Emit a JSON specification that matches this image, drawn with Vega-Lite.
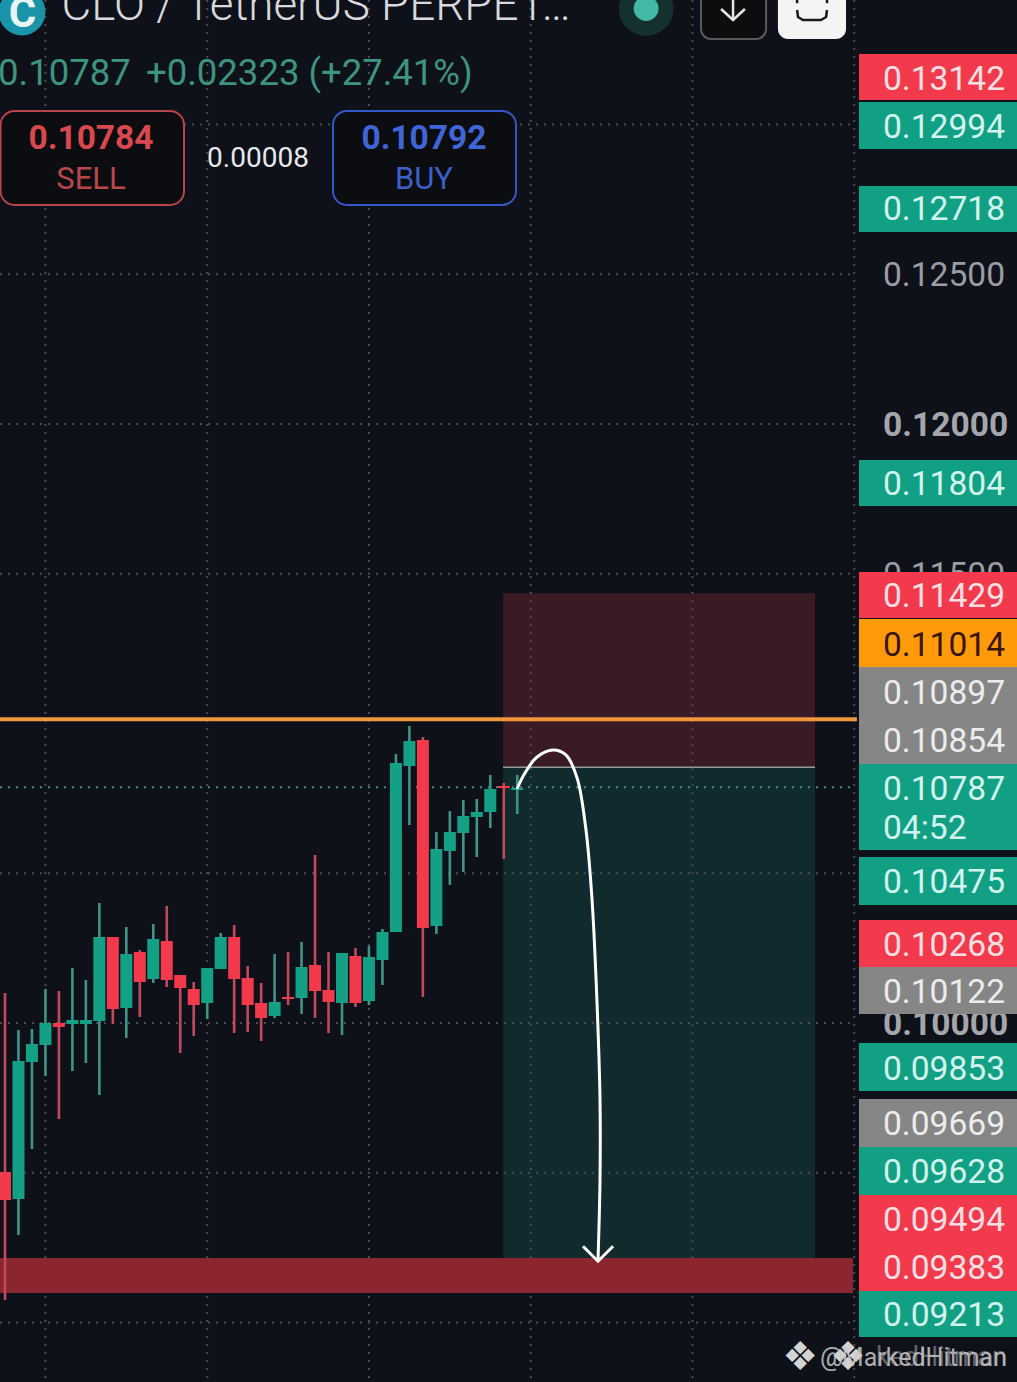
{"$schema":"https://vega.github.io/schema/vega-lite/v6.json","width":1017,"height":1382,"padding":0,"autosize":{"type":"none"},"background":"#0e1119","config":{"view":{"stroke":null},"text":{"font":"Roboto","dy":2}},
"datasets":{"candles":[
{"x":0,"o":0.095025,"h":0.101002,"l":0.090751,"c":0.09409,"side":"down"},
{"x":1,"o":0.094124,"h":0.099766,"l":0.092921,"c":0.098731,"side":"up"},
{"x":2,"o":0.098698,"h":0.0998,"l":0.095793,"c":0.099299,"side":"up"},
{"x":3,"o":0.099265,"h":0.101135,"l":0.09823,"c":0.1,"side":"up"},
{"x":4,"o":0.1,"h":0.101068,"l":0.096795,"c":0.099866,"side":"down"},
{"x":5,"o":0.099967,"h":0.101836,"l":0.098397,"c":0.1001,"side":"up"},
{"x":6,"o":0.099967,"h":0.101436,"l":0.098664,"c":0.1001,"side":"up"},
{"x":7,"o":0.100067,"h":0.104007,"l":0.097596,"c":0.102871,"side":"up"},
{"x":8,"o":0.102871,"h":0.102871,"l":0.099967,"c":0.100467,"side":"down"},
{"x":9,"o":0.100501,"h":0.103205,"l":0.099499,"c":0.102304,"side":"up"},
{"x":10,"o":0.102371,"h":0.102437,"l":0.1002,"c":0.101369,"side":"down"},
{"x":11,"o":0.101469,"h":0.103305,"l":0.101336,"c":0.102804,"side":"up"},
{"x":12,"o":0.102737,"h":0.103906,"l":0.101202,"c":0.101436,"side":"down"},
{"x":13,"o":0.101603,"h":0.101603,"l":0.099,"c":0.101169,"side":"down"},
{"x":14,"o":0.101135,"h":0.101369,"l":0.099566,"c":0.100601,"side":"down"},
{"x":15,"o":0.100668,"h":0.101836,"l":0.100133,"c":0.101836,"side":"up"},
{"x":16,"o":0.101803,"h":0.103005,"l":0.101803,"c":0.102871,"side":"up"},
{"x":17,"o":0.102871,"h":0.103272,"l":0.099666,"c":0.101469,"side":"down"},
{"x":18,"o":0.101503,"h":0.101903,"l":0.099699,"c":0.100601,"side":"down"},
{"x":19,"o":0.100668,"h":0.101336,"l":0.099399,"c":0.100167,"side":"down"},
{"x":20,"o":0.100234,"h":0.102304,"l":0.100167,"c":0.100701,"side":"up"},
{"x":21,"o":0.100868,"h":0.102371,"l":0.100601,"c":0.100801,"side":"down"},
{"x":22,"o":0.100835,"h":0.102705,"l":0.1003,"c":0.10187,"side":"up"},
{"x":23,"o":0.101937,"h":0.105609,"l":0.100167,"c":0.101068,"side":"down"},
{"x":24,"o":0.101102,"h":0.102371,"l":0.099666,"c":0.100701,"side":"down"},
{"x":25,"o":0.100668,"h":0.102337,"l":0.099599,"c":0.102337,"side":"up"},
{"x":26,"o":0.102237,"h":0.102504,"l":0.100534,"c":0.100668,"side":"down"},
{"x":27,"o":0.100735,"h":0.102571,"l":0.100601,"c":0.102204,"side":"up"},
{"x":28,"o":0.102104,"h":0.103139,"l":0.101269,"c":0.103039,"side":"up"},
{"x":29,"o":0.103039,"h":0.108982,"l":0.103039,"c":0.108682,"side":"up"},
{"x":30,"o":0.108581,"h":0.109917,"l":0.106611,"c":0.109416,"side":"up"},
{"x":31,"o":0.10945,"h":0.10955,"l":0.100868,"c":0.103173,"side":"down"},
{"x":32,"o":0.103239,"h":0.106377,"l":0.102972,"c":0.105809,"side":"up"},
{"x":33,"o":0.105743,"h":0.107079,"l":0.104608,"c":0.106377,"side":"up"},
{"x":34,"o":0.106344,"h":0.107446,"l":0.105041,"c":0.106912,"side":"up"},
{"x":35,"o":0.106879,"h":0.107479,"l":0.105542,"c":0.107045,"side":"up"},
{"x":36,"o":0.107045,"h":0.108281,"l":0.106511,"c":0.107813,"side":"up"},
{"x":37,"o":0.107913,"h":0.108014,"l":0.105476,"c":0.107846,"side":"down"},
{"x":38,"o":0.10778,"h":0.108281,"l":0.106979,"c":0.107846,"side":"up"}],
"tags":[
{"x":63.35,"x2":75.074,"p":0.132354,"p2":0.130818,"kind":"red"},
{"x":63.35,"x2":75.074,"p":0.130751,"p2":0.129182,"kind":"green"},
{"x":63.35,"x2":75.074,"p":0.127947,"p2":0.126411,"kind":"green"},
{"x":63.35,"x2":75.074,"p":0.118798,"p2":0.117262,"kind":"green"},
{"x":63.35,"x2":75.074,"p":0.115058,"p2":0.113522,"kind":"red"},
{"x":63.35,"x2":75.074,"p":0.113489,"p2":0.111886,"kind":"orange"},
{"x":63.35,"x2":75.074,"p":0.111886,"p2":0.110284,"kind":"grey"},
{"x":63.35,"x2":75.074,"p":0.110284,"p2":0.108648,"kind":"grey"},
{"x":63.35,"x2":75.074,"p":0.108648,"p2":0.105776,"kind":"green"},
{"x":63.35,"x2":75.074,"p":0.105542,"p2":0.10394,"kind":"green"},
{"x":63.35,"x2":75.074,"p":0.103439,"p2":0.10187,"kind":"red"},
{"x":63.35,"x2":75.074,"p":0.10187,"p2":0.1003,"kind":"grey"},
{"x":63.35,"x2":75.074,"p":0.099332,"p2":0.097729,"kind":"green"},
{"x":63.35,"x2":75.074,"p":0.097462,"p2":0.09586,"kind":"grey"},
{"x":63.35,"x2":75.074,"p":0.09586,"p2":0.094257,"kind":"green"},
{"x":63.35,"x2":75.074,"p":0.094257,"p2":0.092655,"kind":"red"},
{"x":63.35,"x2":75.074,"p":0.092655,"p2":0.091052,"kind":"red"},
{"x":63.35,"x2":75.074,"p":0.091052,"p2":0.089516,"kind":"green"}],
"tagText":[
{"x":65.13,"p":0.131553,"label":"0.13142","kind":"red"},
{"x":65.13,"p":0.12995,"label":"0.12994","kind":"green"},
{"x":65.13,"p":0.127212,"label":"0.12718","kind":"green"},
{"x":65.13,"p":0.11803,"label":"0.11804","kind":"green"},
{"x":65.13,"p":0.11429,"label":"0.11429","kind":"red"},
{"x":65.13,"p":0.112654,"label":"0.11014","kind":"orange"},
{"x":65.13,"p":0.111052,"label":"0.10897","kind":"grey"},
{"x":65.13,"p":0.109449,"label":"0.10854","kind":"grey"},
{"x":65.13,"p":0.107846,"label":"0.10787","kind":"green"},
{"x":65.13,"p":0.106544,"label":"04:52","kind":"green"},
{"x":65.13,"p":0.104741,"label":"0.10475","kind":"green"},
{"x":65.13,"p":0.102638,"label":"0.10268","kind":"red"},
{"x":65.13,"p":0.101069,"label":"0.10122","kind":"grey"},
{"x":65.13,"p":0.098497,"label":"0.09853","kind":"green"},
{"x":65.13,"p":0.096661,"label":"0.09669","kind":"grey"},
{"x":65.13,"p":0.095058,"label":"0.09628","kind":"green"},
{"x":65.13,"p":0.093456,"label":"0.09494","kind":"red"},
{"x":65.13,"p":0.091853,"label":"0.09383","kind":"red"},
{"x":65.13,"p":0.090284,"label":"0.09213","kind":"green"}]},
"encoding":{"x":{"field":"x","type":"quantitative","scale":{"domain":[-0.3709,75.074],"nice":false,"zero":false,"padding":0},"axis":null},"y":{"field":"p","type":"quantitative","scale":{"domain":[0.088013,0.134157],"nice":false,"zero":false},"axis":null}},
"layer":[
{"data":{"values":[{"x":36.95,"x2":60.09,"p":0.11435,"p2":0.10854,"zone":"stop"},{"x":36.95,"x2":60.09,"p":0.10854,"p2":0.09213,"zone":"target"}]},"mark":{"type":"rect"},"encoding":{"x2":{"field":"x2"},"y2":{"field":"p2"},"color":{"field":"zone","type":"nominal","legend":null,"scale":{"domain":["stop","target"],"range":["#3a1a24","#102a2e"]}}}},
{"data":{"values":[{"x":3,"p":0.134157,"p2":0.088013},{"x":15,"p":0.134157,"p2":0.088013},{"x":27,"p":0.134157,"p2":0.088013},{"x":39,"p":0.134157,"p2":0.088013},{"x":51,"p":0.134157,"p2":0.088013},{"x":63,"p":0.134157,"p2":0.088013}]},"mark":{"type":"rule","color":"#474c55","strokeWidth":2,"strokeDash":[2,6]},"encoding":{"y2":{"field":"p2"}}},
{"data":{"values":[{"x":-0.3709,"x2":63.03,"p":0.13},{"x":-0.3709,"x2":63.03,"p":0.125},{"x":-0.3709,"x2":63.03,"p":0.12},{"x":-0.3709,"x2":63.03,"p":0.115},{"x":-0.3709,"x2":63.03,"p":0.105},{"x":-0.3709,"x2":63.03,"p":0.1},{"x":-0.3709,"x2":63.03,"p":0.095},{"x":-0.3709,"x2":63.03,"p":0.09}]},"mark":{"type":"rule","color":"#474c55","strokeWidth":2,"strokeDash":[2,6]},"encoding":{"x2":{"field":"x2"}}},
{"data":{"values":[{"x":-0.3709,"x2":63.03,"p":0.10787}]},"mark":{"type":"rule","color":"#3f8f82","strokeWidth":2,"strokeDash":[2,6]},"encoding":{"x2":{"field":"x2"}}},
{"data":{"values":[{"x":-0.3709,"x2":62.91,"p":0.09215,"p2":0.090985}]},"mark":{"type":"rect","color":"#8b2530"},"encoding":{"x2":{"field":"x2"},"y2":{"field":"p2"}}},
{"data":{"name":"candles"},"mark":{"type":"rule","strokeWidth":2.6},"encoding":{"y":{"field":"h","type":"quantitative","scale":{"domain":[0.088013,0.134157],"nice":false,"zero":false},"axis":null},"y2":{"field":"l"},"color":{"field":"side","type":"nominal","legend":null,"scale":{"domain":["up","down"],"range":["#3f9488","#c04a5a"]}}}},
{"data":{"name":"candles"},"mark":{"type":"bar","size":12,"orient":"vertical"},"encoding":{"y":{"field":"o","type":"quantitative","scale":{"domain":[0.088013,0.134157],"nice":false,"zero":false},"axis":null},"y2":{"field":"c"},"color":{"field":"side","type":"nominal","legend":null,"scale":{"domain":["up","down"],"range":["#14a085","#f23a4c"]}}}},
{"data":{"values":[{"x":36.95,"x2":60.09,"p":0.10854}]},"mark":{"type":"rule","color":"#8f9c9c","strokeWidth":1.5},"encoding":{"x2":{"field":"x2"}}},
{"data":{"values":[{"x":-0.3709,"x2":63.2,"p":0.11014}]},"mark":{"type":"rule","color":"#f0963c","strokeWidth":4},"encoding":{"x2":{"field":"x2"}}},
{"data":{"values":[{"n":1,"x":37.98,"p":0.107813},{"n":2,"x":38.57,"p":0.108348},{"n":3,"x":39.47,"p":0.108882},{"n":4,"x":40.65,"p":0.109116},{"n":5,"x":41.61,"p":0.108949},{"n":6,"x":42.44,"p":0.108181},{"n":7,"x":43.1,"p":0.106444},{"n":8,"x":43.55,"p":0.104107},{"n":9,"x":43.91,"p":0.100768},{"n":10,"x":44.14,"p":0.097429},{"n":11,"x":44.14,"p":0.094758},{"n":12,"x":43.99,"p":0.09205}]},"mark":{"type":"line","color":"#ffffff","strokeWidth":3,"interpolate":"catmull-rom"},"encoding":{"order":{"field":"n","type":"quantitative"}}},
{"data":{"values":[{"n":1,"x":42.88,"p":0.092546},{"n":2,"x":43.99,"p":0.092046},{"n":3,"x":45.11,"p":0.092546}]},"mark":{"type":"line","color":"#ffffff","strokeWidth":3},"encoding":{"order":{"field":"n","type":"quantitative"}}},
{"data":{"values":[{"x":65.13,"p":0.125,"label":"0.12500"},{"x":65.13,"p":0.114992,"label":"0.11500"}]},"mark":{"type":"text","align":"left","baseline":"middle","fontSize":33.6,"color":"#9a9da3"},"encoding":{"text":{"field":"label"}}},
{"data":{"values":[{"x":65.13,"p":0.12,"label":"0.12000"},{"x":65.13,"p":0.1,"label":"0.10000"}]},"mark":{"type":"text","align":"left","baseline":"middle","fontSize":33.6,"fontWeight":"bold","color":"#a4a6ab"},"encoding":{"text":{"field":"label"}}},
{"data":{"name":"tags"},"mark":{"type":"rect"},"encoding":{"x2":{"field":"x2"},"y2":{"field":"p2"},"color":{"field":"kind","type":"nominal","legend":null,"scale":{"domain":["red","green","grey","orange"],"range":["#f23a4c","#12a085","#868686","#ff9a0a"]}}}},
{"data":{"name":"tagText"},"mark":{"type":"text","align":"left","baseline":"middle","fontSize":33.6},"encoding":{"text":{"field":"label"},"color":{"field":"kind","type":"nominal","legend":null,"scale":{"domain":["red","green","grey","orange"],"range":["#f7e0e4","#d2f4ec","#ececec","#3a1505"]}}}},
{"data":{"values":[{"x":1.26,"p":0.133756}]},"mark":{"type":"circle","size":2200,"opacity":1,"color":"#1b93a8"}},
{"data":{"values":[{"x":1.3,"p":0.133756,"label":"C"}]},"mark":{"type":"text","align":"center","baseline":"middle","fontSize":42,"fontWeight":"bold","color":"#e8f6f8"},"encoding":{"text":{"field":"label"}}},
{"data":{"values":[{"x":4.2,"p":0.134007,"label":"CLO / TetherUS PERPET…"}]},"mark":{"type":"text","align":"left","baseline":"middle","fontSize":45.8,"fontWeight":300,"color":"#d7d9de"},"encoding":{"text":{"field":"label"}}},
{"data":{"values":[{"x":-0.52,"p":0.131753,"label":"0.10787"},{"x":10.46,"p":0.131753,"label":"+0.02323 (+27.41%)"}]},"mark":{"type":"text","align":"left","baseline":"middle","fontSize":36.5,"fontWeight":400,"color":"#3d9480"},"encoding":{"text":{"field":"label"}}},
{"data":{"values":[{"x":-0.33,"x2":13.28,"p":0.130451,"p2":0.127312,"btn":"sell"},{"x":24.33,"x2":37.91,"p":0.130451,"p2":0.127312,"btn":"buy"}]},"mark":{"type":"rect","fill":"#0c0d10","strokeWidth":2,"cornerRadius":14},"encoding":{"x2":{"field":"x2"},"y2":{"field":"p2"},"stroke":{"field":"btn","type":"nominal","legend":null,"scale":{"domain":["sell","buy"],"range":["#b8444c","#3558c8"]}}}},
{"data":{"values":[{"x":6.38,"p":0.129583,"label":"0.10784","btn":"sell"},{"x":31.08,"p":0.129583,"label":"0.10792","btn":"buy"}]},"mark":{"type":"text","align":"center","baseline":"middle","fontSize":33.5,"fontWeight":"bold"},"encoding":{"text":{"field":"label"},"color":{"field":"btn","type":"nominal","legend":null,"scale":{"domain":["sell","buy"],"range":["#d8484e","#3f66d9"]}}}},
{"data":{"values":[{"x":6.38,"p":0.128214,"label":"SELL","btn":"sell"},{"x":31.08,"p":0.128214,"label":"BUY","btn":"buy"}]},"mark":{"type":"text","align":"center","baseline":"middle","fontSize":31,"fontWeight":400},"encoding":{"text":{"field":"label"},"color":{"field":"btn","type":"nominal","legend":null,"scale":{"domain":["sell","buy"],"range":["#b8474c","#3d5fc8"]}}}},
{"data":{"values":[{"x":18.77,"p":0.128915,"label":"0.00008"}]},"mark":{"type":"text","align":"center","baseline":"middle","fontSize":28,"color":"#e8e8e8"},"encoding":{"text":{"field":"label"}}},
{"data":{"values":[{"x":47.56,"p":0.133873}]},"mark":{"type":"circle","size":3000,"opacity":1,"color":"#14312f"}},
{"data":{"values":[{"x":47.56,"p":0.133873}]},"mark":{"type":"circle","size":620,"opacity":1,"color":"#43b8a4"}},
{"data":{"values":[{"x":51.63,"x2":56.46,"p":0.134825,"p2":0.132855}]},"mark":{"type":"rect","fill":"#0d0d0f","stroke":"#5a5a5e","strokeWidth":2,"cornerRadius":10},"encoding":{"x2":{"field":"x2"},"y2":{"field":"p2"}}},
{"data":{"values":[{"x":57.34,"x2":62.39,"p":0.134825,"p2":0.132855}]},"mark":{"type":"rect","fill":"#f4f4f5","cornerRadius":10},"encoding":{"x2":{"field":"x2"},"y2":{"field":"p2"}}},
{"data":{"values":[{"g":1,"n":1,"x":54.01,"p":0.134157},{"g":1,"n":2,"x":54.01,"p":0.13349},{"g":2,"n":1,"x":53.12,"p":0.133857},{"g":2,"n":2,"x":54.01,"p":0.13349},{"g":2,"n":3,"x":54.89,"p":0.133857}]},"mark":{"type":"line","color":"#e6e6e6","strokeWidth":2.5},"encoding":{"detail":{"field":"g"},"order":{"field":"n","type":"quantitative"}}},
{"data":{"values":[{"g":1,"n":1,"x":58.76,"p":0.133823},{"g":1,"n":2,"x":58.83,"p":0.133589},{"g":1,"n":3,"x":59.2,"p":0.13349},{"g":1,"n":4,"x":60.53,"p":0.13349},{"g":1,"n":5,"x":60.91,"p":0.133589},{"g":1,"n":6,"x":60.98,"p":0.133823},{"g":2,"n":1,"x":58.76,"p":0.134157},{"g":2,"n":2,"x":58.76,"p":0.13405},{"g":3,"n":1,"x":60.98,"p":0.134157},{"g":3,"n":2,"x":60.98,"p":0.13405}]},"mark":{"type":"line","color":"#1a1a1e","strokeWidth":2.5},"encoding":{"detail":{"field":"g"},"order":{"field":"n","type":"quantitative"}}},
{"data":{"values":[{"x":58.98,"p":0.088881,"label":"❖"},{"x":62.53,"p":0.088881,"label":"❖"}]},"mark":{"type":"text","align":"center","baseline":"middle","fontSize":40,"font":"DejaVu Sans","color":"#d4d4d4"},"encoding":{"text":{"field":"label"}}},
{"data":{"values":[{"x":60.46,"p":0.088881,"label":"@"}]},"mark":{"type":"text","align":"left","baseline":"middle","fontSize":26,"color":"#c8c8c8","opacity":0.85},"encoding":{"text":{"field":"label"}}},
{"data":{"values":[{"x":74.33,"p":0.088881,"label":"MarkedHitman"}]},"mark":{"type":"text","align":"right","baseline":"middle","fontSize":25,"color":"#c8c8c8","opacity":0.85},"encoding":{"text":{"field":"label"}}},
{"data":{"values":[{"x":74.33,"p":0.088881,"label":"kedHitman"}]},"mark":{"type":"text","align":"right","baseline":"middle","fontSize":27,"color":"#c8c8c8","opacity":0.45},"encoding":{"text":{"field":"label"}}}
],
"resolve":{"scale":{"color":"independent","stroke":"independent"}}}
